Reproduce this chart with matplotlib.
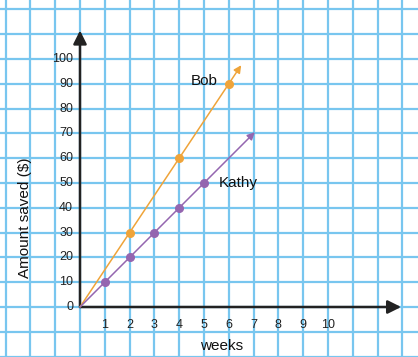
import matplotlib.pyplot as plt

plt.rcParams['font.family'] = ['Liberation Sans', 'DejaVu Sans']

# Data
bob_weeks = [2, 4, 6]
bob_saved = [30, 60, 90]
kathy_weeks = [1, 2, 3, 4, 5]
kathy_saved = [10, 20, 30, 40, 50]

# lines run from the origin past the last point and end in an arrow
bob_line_x = [0, 6.5]
bob_line_y = [0, 97.5]
kathy_line_x = [0, 7.05]
kathy_line_y = [0, 70.5]

x_ticks = [1, 2, 3, 4, 5, 6, 7, 8, 9, 10]
y_ticks = [0, 10, 20, 30, 40, 50, 60, 70, 80, 90, 100]

orange = '#efa43a'
purple = '#9466b0'
grid_blue = '#78c6ef'

fig = plt.figure(figsize=(4.18, 3.57), dpi=100)
ax = fig.add_axes([0, 0, 1, 1])
ax.set_xlim(-3.226, 13.63)
ax.set_ylim(-20.16, 123.79)
ax.axis('off')

# graph paper
for gx in range(-3, 14):
    ax.axvline(gx, color=grid_blue, lw=1.6, zorder=0)
for gy in range(-20, 124, 10):
    ax.axhline(gy, color=grid_blue, lw=1.6, zorder=0)

# axes with arrows
axis_arrow = dict(arrowstyle='-|>,head_length=0.5,head_width=0.25', color='#222222',
                  lw=1.8, mutation_scale=16, shrinkA=0, shrinkB=0)
ax.annotate('', xy=(0, 111.5), xytext=(0, 0), arrowprops=axis_arrow)
ax.annotate('', xy=(12.95, 0), xytext=(0, 0), arrowprops=axis_arrow)

# tick labels
for t in x_ticks:
    ax.text(t, -7.3, str(t), ha='center', va='center', fontsize=9, color='#222222')
for t in y_ticks:
    ax.text(-0.28, t, str(t), ha='right', va='center', fontsize=9, color='#222222')

ax.text(5.7, -15.8, 'weeks', ha='center', va='center', fontsize=11, color='#111111')
ax.text(-2.2, 36, 'Amount saved ($)', ha='center', va='center', rotation=90,
        fontsize=11, color='#111111')

# Bob
ax.annotate('', xy=(bob_line_x[1], bob_line_y[1]), xytext=(bob_line_x[0], bob_line_y[0]),
            arrowprops=dict(arrowstyle='-|>', color=orange, lw=1.1, mutation_scale=11,
                            shrinkA=0, shrinkB=0))
ax.plot(bob_weeks, bob_saved, 'o', color=orange, markersize=5.5, zorder=3)
ax.text(5.0, 91.2, 'Bob', ha='center', va='center', fontsize=11, color='#111111')

# Kathy
ax.annotate('', xy=(kathy_line_x[1], kathy_line_y[1]), xytext=(kathy_line_x[0], kathy_line_y[0]),
            arrowprops=dict(arrowstyle='-|>', color=purple, lw=1.1, mutation_scale=11,
                            shrinkA=0, shrinkB=0))
ax.plot(kathy_weeks, kathy_saved, 'o', color=purple, markersize=5.5, zorder=3)
ax.text(6.4, 50.2, 'Kathy', ha='center', va='center', fontsize=11, color='#111111')

fig.savefig('out.png', dpi=100)
